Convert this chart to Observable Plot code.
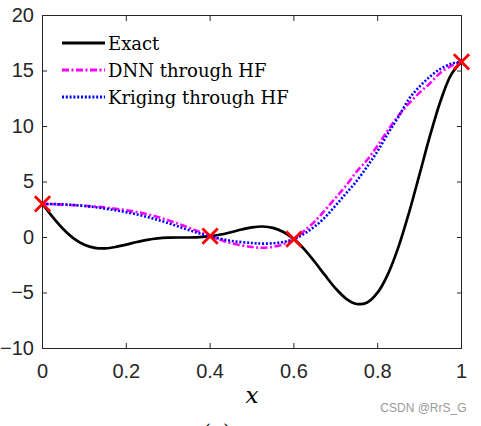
<!DOCTYPE html>
<html><head><meta charset="utf-8">
<script src="https://cdn.jsdelivr.net/npm/d3@7"></script>
<script src="https://cdn.jsdelivr.net/npm/@observablehq/plot@0.6"></script>
<style>html,body{margin:0;padding:0;background:#fff;overflow:hidden}</style>
</head><body><div id="chart"></div>
<script>
// Exact function samples
const exactX = [0,0.025,0.05,0.075,0.1,0.125,0.15,0.175,0.2,0.225,0.25,0.275,0.3,0.325,0.35,0.375,0.4,0.425,0.45,0.475,0.5,0.525,0.55,0.575,0.6,0.625,0.65,0.675,0.7,0.725,0.75,0.775,0.8,0.825,0.85,0.875,0.9,0.925,0.95,0.975,1];
const exactY = [3.03,1.81,0.74,-0.10,-0.66,-0.94,-0.98,-0.85,-0.64,-0.41,-0.21,-0.08,-0.02,0.0,0.0,0.03,0.12,0.27,0.48,0.72,0.91,0.99,0.87,0.50,-0.15,-1.07,-2.21,-3.44,-4.61,-5.52,-5.99,-5.85,-4.95,-3.25,-0.80,2.27,5.71,9.19,12.30,14.65,15.83];
// Surrogate models (magenta dash-dot, blue dotted)
const modelX = [0,0.05,0.1,0.15,0.2,0.25,0.3,0.35,0.4,0.45,0.5,0.525,0.55,0.575,0.6,0.625,0.65,0.675,0.7,0.725,0.75,0.775,0.8,0.825,0.85,0.875,0.9,0.925,0.95,0.975,1];
const dnnY = [3.03,2.96,2.86,2.7,2.45,2.1,1.55,0.88,0.12,-0.5,-0.86,-0.92,-0.84,-0.6,-0.15,0.6,1.45,2.5,3.6,4.7,5.95,7.0,8.3,9.7,11.0,12.1,13.05,13.9,14.85,15.45,15.83];
const krigY = [3.03,2.98,2.84,2.6,2.28,1.85,1.3,0.66,0.1,-0.3,-0.5,-0.55,-0.52,-0.4,-0.15,0.35,1.0,1.85,2.9,4.0,5.1,6.4,7.8,9.4,10.9,12.5,13.6,14.5,15.2,15.65,15.83];
// High-fidelity samples (red crosses)
const hfX = [0,0.4,0.6,1];
const hfY = [3.03,0.12,-0.15,15.83];
// Axes
const xTicks = [0,0.2,0.4,0.6,0.8,1];
const xTickLabels = ["0","0.2","0.4","0.6","0.8","1"];
const yTicks = [-10,-5,0,5,10,15,20];
const seriesNames = ["Exact","DNN through HF","Kriging through HF"];
const seriesColors = ["#000000","#ff00ff","#0000ff"];
const seriesDash = [null,"7,2.5,2,2.5","2,1.8"];

const exact = exactX.map((x,i)=>({x, y: exactY[i]}));
const dnn = modelX.map((x,i)=>({x, y: dnnY[i]}));
const krig = modelX.map((x,i)=>({x, y: krigY[i]}));
const hf = hfX.map((x,i)=>({x, y: hfY[i]}));

const axisColor = "#262626";
const blank = () => "";
const chart = Plot.plot({
  width: 481, height: 426,
  marginLeft: 42, marginRight: 20, marginTop: 15, marginBottom: 78,
  style: {fontFamily: "Liberation Sans, Arial, sans-serif", fontSize: "20px", color: axisColor, background: "#fff"},
  x: {domain: [0,1]},
  y: {domain: [-10,20]},
  marks: [
    Plot.frame({stroke: axisColor, strokeWidth: 1}),
    Plot.axisX({anchor: "bottom", ticks: xTicks, tickSize: -5, tickPadding: 20, tickFormat: (d,i)=>xTickLabels[i], label: null}),
    Plot.axisX({anchor: "top", ticks: xTicks, tickSize: -5, tickFormat: blank, label: null}),
    Plot.axisY({anchor: "left", ticks: yTicks, tickSize: -5, tickPadding: 13.5, label: null}),
    Plot.axisY({anchor: "right", ticks: yTicks, tickSize: -5, tickFormat: blank, label: null}),
    Plot.line(exact, {x: "x", y: "y", stroke: seriesColors[0], strokeWidth: 2.7, curve: "catmull-rom"}),
    Plot.line(dnn, {x: "x", y: "y", stroke: seriesColors[1], strokeWidth: 2.6, strokeDasharray: seriesDash[1], strokeLinecap: "butt", curve: "catmull-rom"}),
    Plot.line(krig, {x: "x", y: "y", stroke: seriesColors[2], strokeWidth: 2.6, strokeDasharray: seriesDash[2], strokeLinecap: "butt", curve: "catmull-rom"}),
    Plot.dot(hf, {x: "x", y: "y", symbol: "times", r: 7, stroke: "#ff0000", strokeWidth: 2.8}),
    Plot.text(["x"], {frameAnchor: "bottom", dy: 54, text: d=>d, fontStyle: "italic", fontFamily: "DejaVu Serif", fontSize: 23, fill: "#000"}),
    Plot.text(["CSDN @RrS_G"], {frameAnchor: "bottom-right", dx: 5, dy: 63, text: d=>d, textAnchor: "end", fontFamily: "Liberation Sans, Arial, sans-serif", fontSize: 12, fill: "#9a9a9a"}),
    Plot.text(["(a)"], {frameAnchor: "bottom", dx: -35, dy: 90, lineAnchor: "bottom", text: d=>d, fontFamily: "DejaVu Serif", fontSize: 20, fill: "#000"})
  ]
});
document.getElementById("chart").appendChild(chart);

// Legend (inside the axes, top-left, no box)
const svg = d3.select(chart);
const leg = svg.append("g").attr("class","legend").attr("text-anchor","start");
seriesNames.forEach((name,i)=>{
  const cy = 43 + i*27;
  leg.append("line").attr("x1",62).attr("x2",105).attr("y1",cy).attr("y2",cy)
    .attr("stroke",seriesColors[i]).attr("stroke-width",2.8)
    .attr("stroke-linecap","butt")
    .attr("stroke-dasharray",seriesDash[i]);
  leg.append("text").attr("x",108).attr("y",cy+6.5)
    .attr("text-anchor","start")
    .attr("font-family","DejaVu Serif").attr("font-size",18).attr("fill","#000")
    .text(name);
});
</script></body></html>
